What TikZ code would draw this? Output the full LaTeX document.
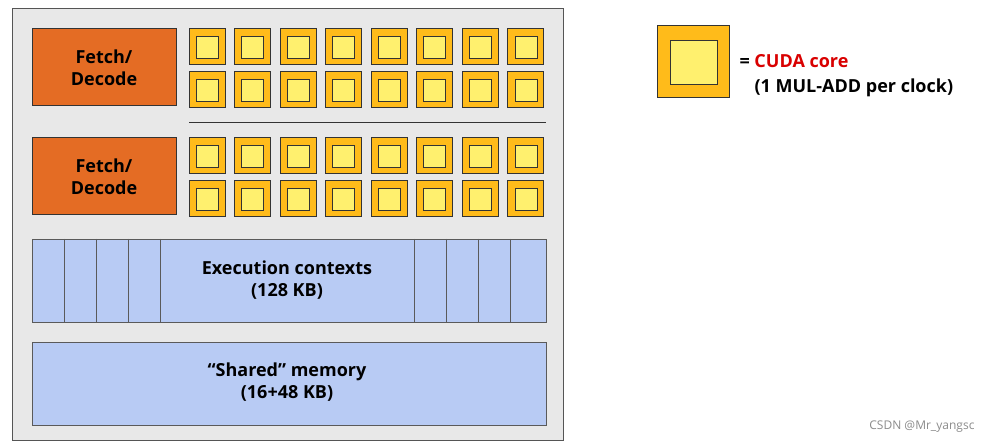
\documentclass[tikz,border=0pt]{standalone}
\usepackage{fontspec}
\setmainfont{Open Sans}
\begin{document}
\begin{tikzpicture}[x=1pt,y=-1pt,
  fd/.style={draw=black!80,line width=1pt,fill={rgb,255:red,228;green,108;blue,36}},
  outer/.style={draw={rgb,255:red,85;green,85;blue,85},line width=1pt,fill={rgb,255:red,232;green,232;blue,232}},
  core/.style={draw=black!80,line width=1pt,fill={rgb,255:red,255;green,187;blue,26}},
  inner/.style={draw=black!80,line width=0.8pt,fill={rgb,255:red,255;green,240;blue,110}},
  mem/.style={draw={rgb,255:red,90;green,90;blue,90},line width=0.8pt,fill={rgb,255:red,184;green,203;blue,244}},
  lbl/.style={font=\fontsize{18}{22}\selectfont\bfseries,align=center}]
\useasboundingbox (0,0) rectangle (989,443);
\fill[white] (0,0) rectangle (989,443);
\draw[outer] (12,9) rectangle (563,441);
\draw[fd] (32,29) rectangle (176,106);
\node[lbl] (fd1) at (104,67.5) {Fetch/\\Decode};
\draw[fd] (32,138) rectangle (176,215);
\node[lbl] (fd2) at (104,176.5) {Fetch/\\Decode};
\foreach \c in {0,...,7}{
  \foreach \r in {29,72,138,181}{
    \pgfmathsetmacro{\xx}{189+\c*45.57}
    \draw[core] (\xx,\r) rectangle ++(36,36);
    \draw[inner] (\xx+7,\r+7) rectangle ++(22,22);
  }
}
\draw[line width=1pt,black!80] (189,123) -- (546,123);
\draw[mem] (32,239) rectangle (546,322);
\foreach \x in {64,96,128,160,414,446,478,510}{\draw[mem] (\x,239) -- (\x,322);}
\node[lbl] (ec) at (287,280) {Execution contexts\\(128 KB)};
\draw[mem] (32,342) rectangle (546,425);
\node[lbl] (sm) at (287,382) {“Shared” memory\\(16+48 KB)};
\draw[core] (657,26) rectangle (729,98);
\draw[inner] (670,40) rectangle (717,84);
\node[anchor=west,font=\fontsize{18}{22}\selectfont\bfseries] (t1) at (736,61) {= \textcolor[rgb]{0.85,0,0}{CUDA core}};
\node[anchor=west,font=\fontsize{18}{22}\selectfont\bfseries] (t2) at (751,88) {(1 MUL-ADD per clock)};
\node[anchor=east,font=\fontsize{12}{14}\selectfont,text=black!45] (wm) at (978,427) {CSDN @Mr\_yangsc};
\end{tikzpicture}
\end{document}
